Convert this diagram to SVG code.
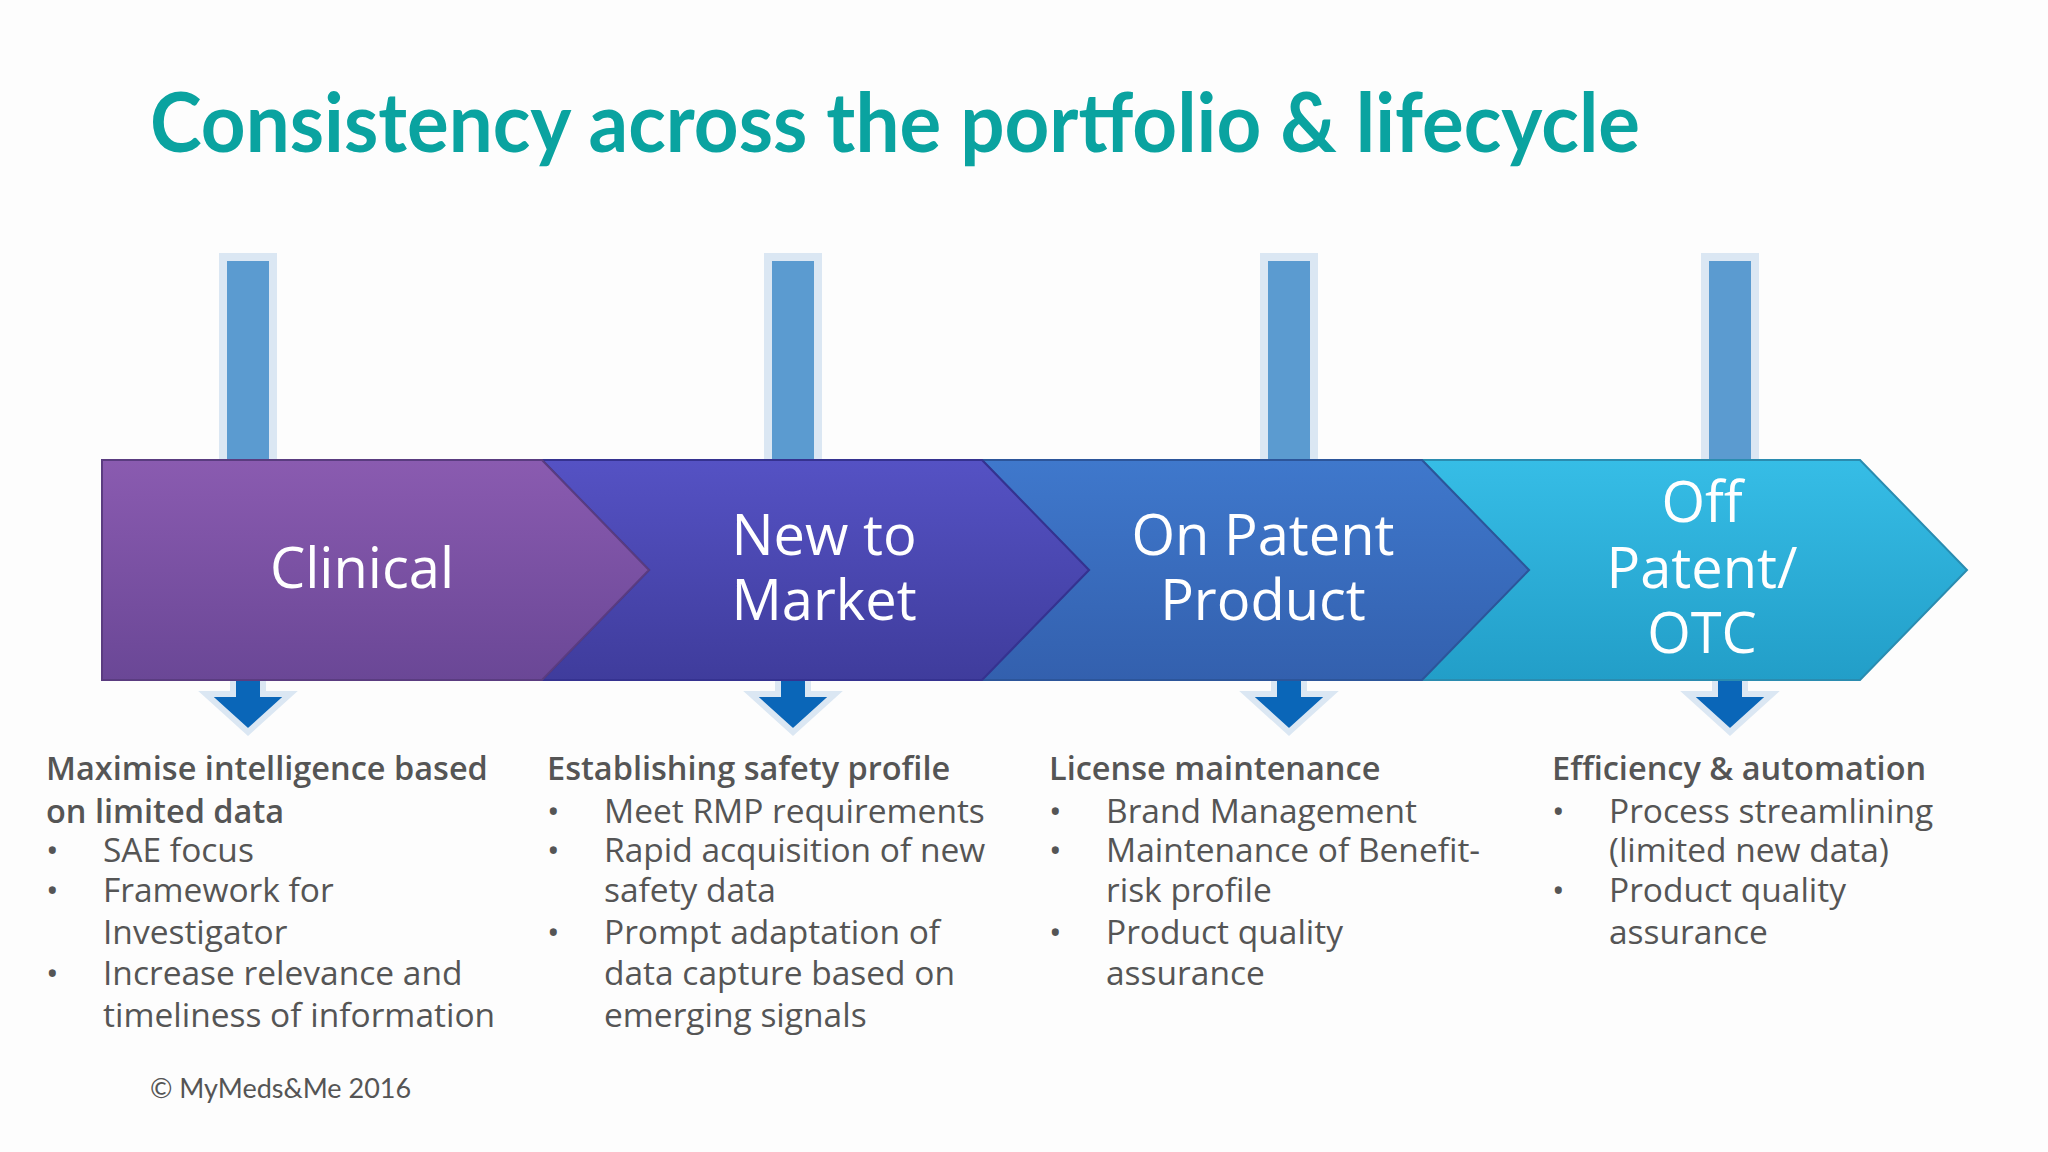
<svg xmlns="http://www.w3.org/2000/svg" width="2048" height="1152" viewBox="0 0 2048 1152">
<style>
.t{font-family:Lato,"Open Sans",sans-serif}
.lbl{font-family:"Open Sans",Lato,sans-serif;font-size:56px;fill:#fff;text-anchor:middle}
.h{font-family:"Open Sans",Lato,sans-serif;font-size:32.5px;font-weight:600;fill:#555}
.b{font-family:"Open Sans",Lato,sans-serif;font-size:33.5px;fill:#555}
.bar{fill:#5b9bd0;stroke:#dbe7f3;stroke-width:8}
.arr{fill:#0a66b8;stroke:#dbe7f3;stroke-width:6}
</style>
<defs>
<linearGradient id="g1" x1="0" y1="0" x2="0" y2="1"><stop offset="0" stop-color="#8a5bb0"/><stop offset="1" stop-color="#6a4796"/></linearGradient>
<linearGradient id="g2" x1="0" y1="0" x2="0" y2="1"><stop offset="0" stop-color="#5552c4"/><stop offset="1" stop-color="#3f3c9c"/></linearGradient>
<linearGradient id="g3" x1="0" y1="0" x2="0" y2="1"><stop offset="0" stop-color="#3f78cc"/><stop offset="1" stop-color="#3360ae"/></linearGradient>
<linearGradient id="g4" x1="0" y1="0" x2="0" y2="1"><stop offset="0" stop-color="#36bde6"/><stop offset="1" stop-color="#229ec8"/></linearGradient>
</defs>
<rect width="2048" height="1152" fill="#fdfdfd"/>
<text class="t" x="150" y="152" font-size="82" font-weight="bold" fill="#0aa3a0" textLength="1490" lengthAdjust="spacingAndGlyphs">Consistency across the portfolio &amp; lifecycle</text>
<g id="connectors">
<rect class="bar" x="223" y="257" width="50" height="210"/>
<rect class="bar" x="768" y="257" width="50" height="210"/>
<rect class="bar" x="1264" y="257" width="50" height="210"/>
<rect class="bar" x="1705" y="257" width="50" height="210"/>
<path class="arr" d="M233 676H263V694H290L248 732L206 694H233Z"/>
<path class="arr" d="M778 676H808V694H835L793 732L751 694H778Z"/>
<path class="arr" d="M1274 676H1304V694H1331L1289 732L1247 694H1274Z"/>
<path class="arr" d="M1715 676H1745V694H1772L1730 732L1688 694H1715Z"/>
</g>
<g id="n4"><path d="M1422 460H1860L1967 570L1860 680H1422L1529 570Z" fill="url(#g4)" stroke="#2a8cb0" stroke-width="2"/>
<text class="lbl" x="1702" y="522">Off</text><text class="lbl" x="1702" y="588">Patent/</text><text class="lbl" x="1702" y="653">OTC</text></g>
<g id="n3"><path d="M982 460H1422L1529 570L1422 680H982L1089 570Z" fill="url(#g3)" stroke="#2c559a" stroke-width="2"/>
<text class="lbl" x="1263" y="555">On Patent</text><text class="lbl" x="1263" y="620">Product</text></g>
<g id="n2"><path d="M542 460H982L1089 570L982 680H542L649 570Z" fill="url(#g2)" stroke="#353290" stroke-width="2"/>
<text class="lbl" x="824" y="555">New to</text><text class="lbl" x="824" y="620">Market</text></g>
<g id="n1"><path d="M102 460H542L649 570L542 680H102Z" fill="url(#g1)" stroke="#5a3c80" stroke-width="2"/>
<text class="lbl" x="362" y="588">Clinical</text></g>
<g id="c1">
<text class="h" x="46" y="780">Maximise intelligence based</text>
<text class="h" x="46" y="823">on limited data</text>
<text class="b" x="46" y="862">•</text><text class="b" x="103" y="862">SAE focus</text>
<text class="b" x="46" y="902">•</text><text class="b" x="103" y="902">Framework for</text>
<text class="b" x="103" y="944">Investigator</text>
<text class="b" x="46" y="985">•</text><text class="b" x="103" y="985">Increase relevance and</text>
<text class="b" x="103" y="1027">timeliness of information</text>
</g>
<g id="c2">
<text class="h" x="547" y="780">Establishing safety profile</text>
<text class="b" x="547" y="823">•</text><text class="b" x="604" y="823">Meet RMP requirements</text>
<text class="b" x="547" y="862">•</text><text class="b" x="604" y="862">Rapid acquisition of new</text>
<text class="b" x="604" y="902">safety data</text>
<text class="b" x="547" y="944">•</text><text class="b" x="604" y="944">Prompt adaptation of</text>
<text class="b" x="604" y="985">data capture based on</text>
<text class="b" x="604" y="1027">emerging signals</text>
</g>
<g id="c3">
<text class="h" x="1049" y="780">License maintenance</text>
<text class="b" x="1049" y="823">•</text><text class="b" x="1106" y="823">Brand Management</text>
<text class="b" x="1049" y="862">•</text><text class="b" x="1106" y="862">Maintenance of Benefit-</text>
<text class="b" x="1106" y="902">risk profile</text>
<text class="b" x="1049" y="944">•</text><text class="b" x="1106" y="944">Product quality</text>
<text class="b" x="1106" y="985">assurance</text>
</g>
<g id="c4">
<text class="h" x="1552" y="780">Efficiency &amp; automation</text>
<text class="b" x="1552" y="823">•</text><text class="b" x="1609" y="823">Process streamlining</text>
<text class="b" x="1609" y="862">(limited new data)</text>
<text class="b" x="1552" y="902">•</text><text class="b" x="1609" y="902">Product quality</text>
<text class="b" x="1609" y="944">assurance</text>
</g>
<text class="t" x="150" y="1098" font-size="27" fill="#555">© MyMeds&amp;Me 2016</text>
</svg>
